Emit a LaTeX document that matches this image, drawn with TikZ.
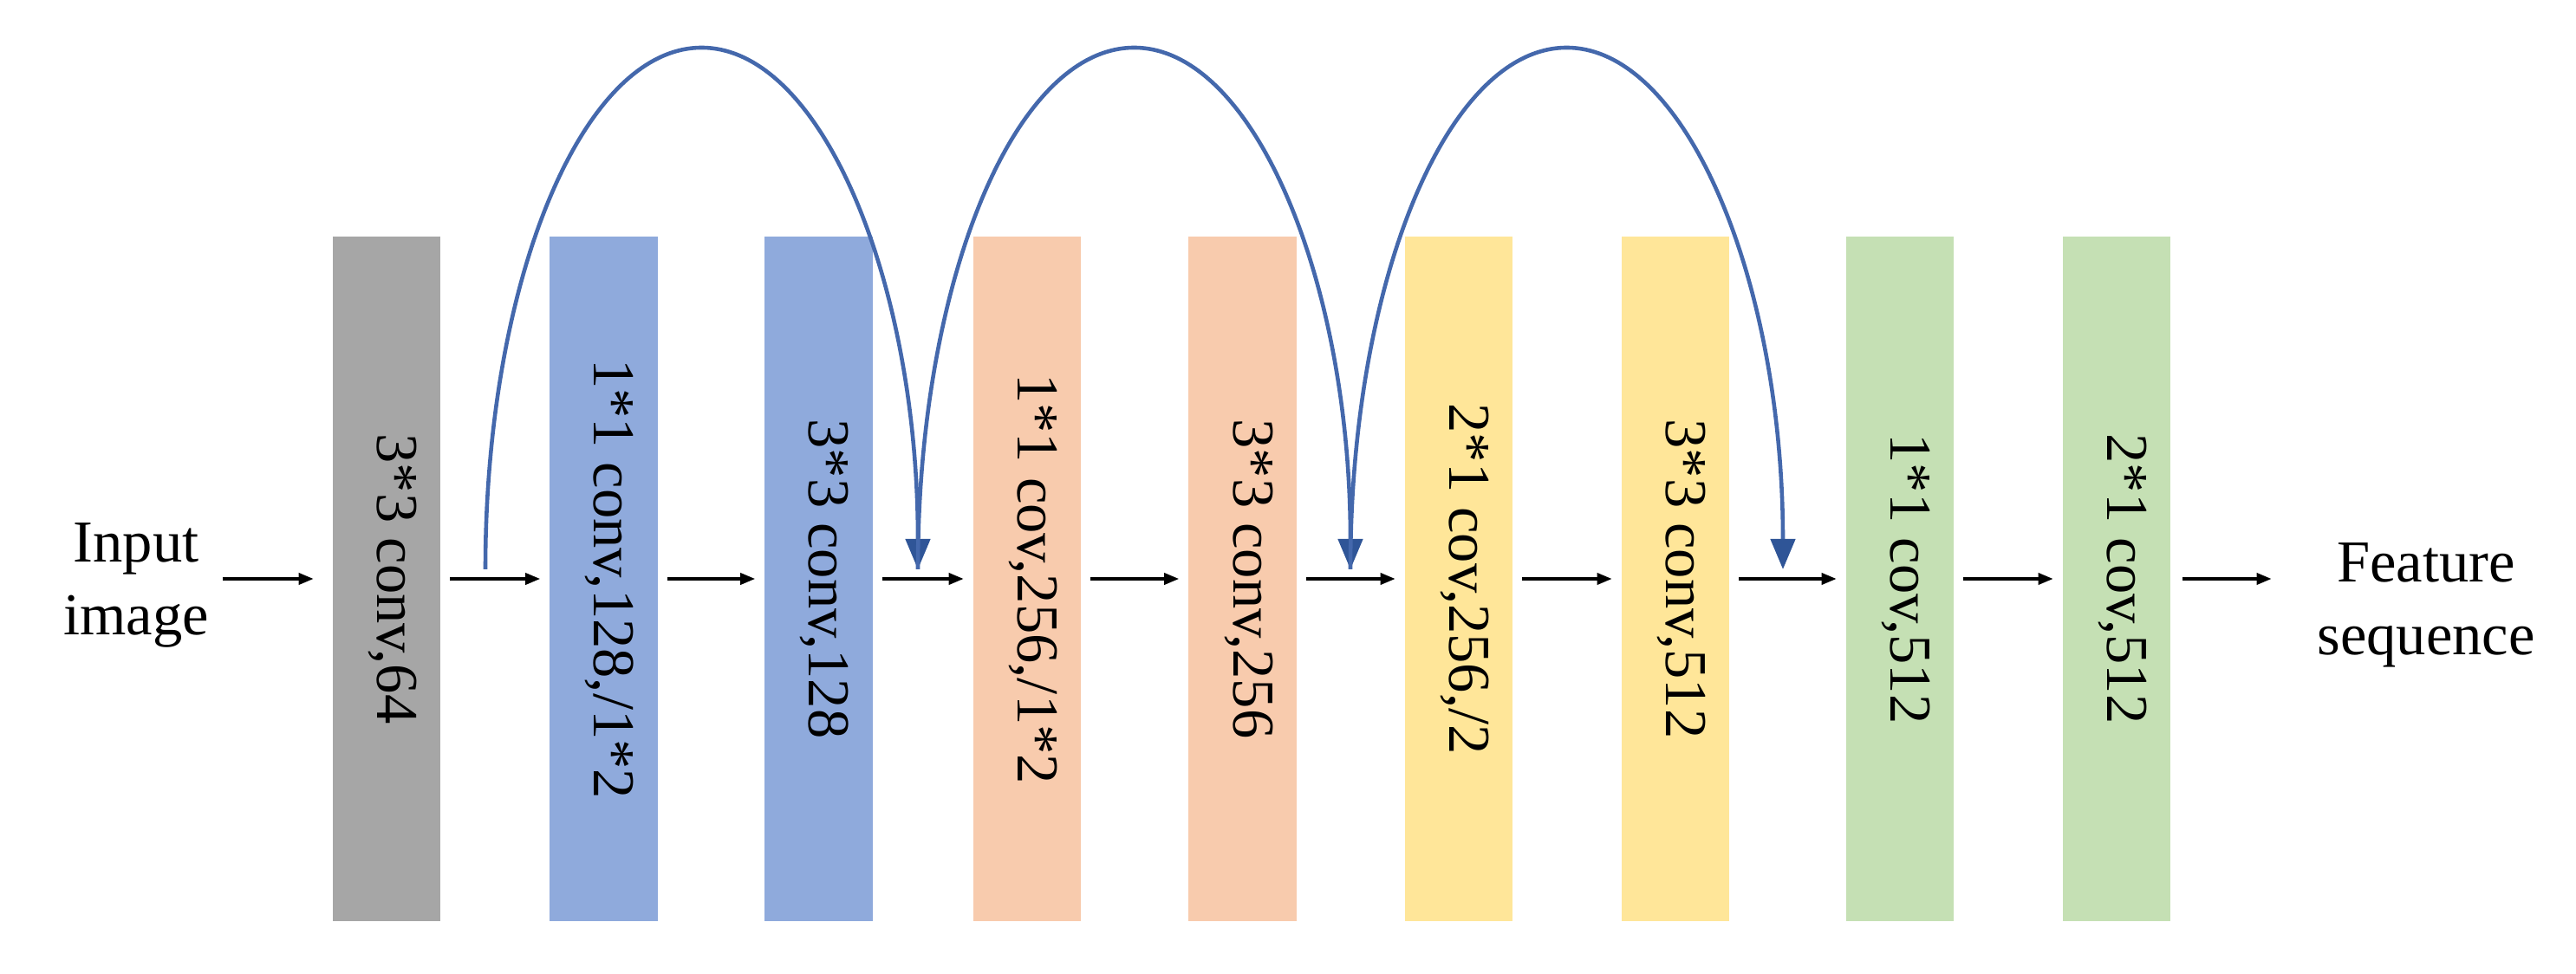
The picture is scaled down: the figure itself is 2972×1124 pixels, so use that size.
\documentclass[tikz,border=0pt]{standalone}
\usepackage{fontspec}
\setmainfont{Liberation Serif}
\usetikzlibrary{arrows.meta}
\definecolor{cgray}{HTML}{A6A6A6}
\definecolor{cblue}{HTML}{8FAADC}
\definecolor{corange}{HTML}{F8CBAD}
\definecolor{cyellow}{HTML}{FFE699}
\definecolor{cgreen}{HTML}{C5E0B4}
\definecolor{skipline}{HTML}{4468AC}
\definecolor{skiphead}{HTML}{2F5597}
\newcommand{\vlabel}[1]{\hspace*{0.14cm}\rotatebox{-90}{#1}}
\begin{document}
\begin{tikzpicture}[x=0.01cm,y=0.01cm,
  bar/.style={minimum width=1.245cm, minimum height=7.9cm, inner sep=0pt, outer sep=0pt,
              font=\fontsize{19.5}{23.9}\selectfont},
  arr/.style={line width=1pt, -{Triangle[length=0.17cm,width=0.13cm]},
              shorten <=0.11cm, shorten >=0.11cm},
  skiparr/.style={line width=1.3pt, draw=skipline,
              -{Triangle[length=0.35cm,width=0.28cm,color=skiphead,fill=skiphead]}},
  txt/.style={align=center, inner sep=0pt, font=\fontsize{19.5}{23.9}\selectfont}
]
\useasboundingbox (0,0) rectangle (2972,1124);
% bars
\node[bar, fill=cgray]   (b1) at (446,456)    {\vlabel{3*3 conv,64}};
\node[bar, fill=cblue]   (b2) at (696.5,456)  {\vlabel{1*1 conv,128,/1*2}};
\node[bar, fill=cblue]   (b3) at (944.5,456)  {\vlabel{3*3 conv,128}};
\node[bar, fill=corange] (b4) at (1185,456)   {\vlabel{1*1 cov,256,/1*2}};
\node[bar, fill=corange] (b5) at (1433.5,456) {\vlabel{3*3 conv,256}};
\node[bar, fill=cyellow] (b6) at (1683,456)   {\vlabel{2*1 cov,256,/2}};
\node[bar, fill=cyellow] (b7) at (1933,456)   {\vlabel{3*3 conv,512}};
\node[bar, fill=cgreen]  (b8) at (2192,456)   {\vlabel{1*1 cov,512}};
\node[bar, fill=cgreen]  (b9) at (2442,456)   {\vlabel{2*1 cov,512}};
% end texts
\node[txt] (in)  at (157,449)  {Input\\image};
\node[txt] (out) at (2799,426) {Feature\\sequence};
% main arrows
\draw[arr, shorten <=0.155cm, shorten >=0.22cm] (b1.west -| in.east) -- (b1.west);
\draw[arr] (b1) -- (b2);
\draw[arr] (b2) -- (b3);
\draw[arr] (b3) -- (b4);
\draw[arr] (b4) -- (b5);
\draw[arr] (b5) -- (b6);
\draw[arr] (b6) -- (b7);
\draw[arr] (b7) -- (b8);
\draw[arr] (b8) -- (b9);
\draw[arr, shorten <=0.135cm, shorten >=0.52cm] (b9.east) -- (b9.east -| out.west);
% skip connections
\coordinate (k1) at (560,467);
\coordinate (k2) at (1059,467);
\coordinate (k3) at (1558,467);
\coordinate (k4) at (2057,467);
\coordinate (t1) at (809.5,1069);
\coordinate (t2) at (1308.5,1069);
\coordinate (t3) at (1807.5,1069);
\draw[skiparr] (k1) .. controls +(0,332) and +(-138,0) .. (t1)
                    .. controls +(138,0) and +(0,332) .. (k2);
\draw[skiparr] (k2) .. controls +(0,332) and +(-138,0) .. (t2)
                    .. controls +(138,0) and +(0,332) .. (k3);
\draw[skiparr] (k3) .. controls +(0,332) and +(-138,0) .. (t3)
                    .. controls +(138,0) and +(0,332) .. (k4);
\end{tikzpicture}
\end{document}
